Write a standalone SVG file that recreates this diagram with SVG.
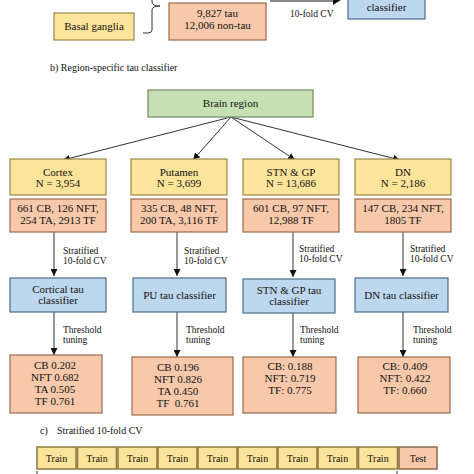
<svg xmlns="http://www.w3.org/2000/svg" width="474" height="474" viewBox="0 0 474 474" font-family="'Liberation Serif', 'Times New Roman', Times, serif">
<defs>
<marker id="ah" viewBox="0 0 10 10" refX="10" refY="5" markerWidth="7" markerHeight="7" orient="auto" markerUnits="userSpaceOnUse">
<path d="M0,0 L10,5 L0,10 z" fill="#111"/>
</marker>
<style>
text{font-family:'Liberation Serif','Times New Roman',Times,serif;fill:#111;}
.t{font-size:11px;text-anchor:middle;}
.s{font-size:9.5px;}
.h{font-size:10px;}
.y{fill:#fde49b;stroke:#9c8848;stroke-width:1.2;}
.o{fill:#f7c9aa;stroke:#9a6a4c;stroke-width:1.2;}
.b{fill:#bdd7ee;stroke:#4a6d8f;stroke-width:1.2;}
.g{fill:#c6e0b4;stroke:#6e8a60;stroke-width:1.2;}
.tr{fill:#fde49b;stroke:#8c7a3c;stroke-width:1.5;}
.te{fill:#f7c9aa;stroke:#8c6a4c;stroke-width:1.5;}
.c{stroke:#333;stroke-width:1;fill:none;}
</style>
</defs>
<rect width="474" height="474" fill="#fff"/>

<!-- section a (partially visible) -->
<g id="basal">
<rect class="y" x="54" y="13" width="80" height="27"/>
<text class="t" x="94" y="30">Basal ganglia</text>
</g>
<g id="brace">
<path class="c" d="M160,6 Q152,6 152,2 L152,-20 M160,6 Q152,6 152,10 L152,30 Q152,33 148,33 L143,33" stroke-width="1.2"/>
</g>
<g id="counts">
<rect class="o" x="169" y="3" width="97" height="37"/>
<text class="t" x="217.5" y="17">9,827 tau</text>
<text class="t" x="217.5" y="29">12,006 non-tau</text>
</g>
<g id="topclassifier">
<rect class="b" x="348" y="-10" width="77" height="29"/>
<text class="t" x="386.5" y="11">classifier</text>
</g>

<g id="connectors">
<line x1="270" y1="-2" x2="334" y2="-2" stroke="#8a8a8a" stroke-width="8"/>
<polygon points="333,-9 344,-2 333,5" fill="#111"/>
<line class="c" x1="231" y1="117" x2="63" y2="160" marker-end="url(#ah)"/>
<line class="c" x1="231" y1="117" x2="193" y2="160" marker-end="url(#ah)"/>
<line class="c" x1="231" y1="117" x2="295" y2="160" marker-end="url(#ah)"/>
<line class="c" x1="231" y1="117" x2="400" y2="160" marker-end="url(#ah)"/>
<line class="c" x1="54" y1="232" x2="54" y2="276" marker-end="url(#ah)"/>
<line class="c" x1="177" y1="232" x2="177" y2="276" marker-end="url(#ah)"/>
<line class="c" x1="293" y1="232" x2="293" y2="277" marker-end="url(#ah)"/>
<line class="c" x1="403" y1="232" x2="403" y2="276" marker-end="url(#ah)"/>
<line class="c" x1="54" y1="312" x2="54" y2="355" marker-end="url(#ah)"/>
<line class="c" x1="177" y1="312" x2="177" y2="357" marker-end="url(#ah)"/>
<line class="c" x1="293" y1="313" x2="293" y2="357" marker-end="url(#ah)"/>
<line class="c" x1="403" y1="312" x2="403" y2="357" marker-end="url(#ah)"/>
<line class="c" x1="37" y1="471" x2="37" y2="474"/>
<line class="c" x1="397" y1="471" x2="397" y2="474"/>
</g>
<text class="s" x="290" y="17">10-fold CV</text>

<text class="h" x="50" y="71">b) Region-specific tau classifier</text>

<g id="brainregion">
<rect class="g" x="148" y="90" width="165" height="27"/>
<text class="t" x="230.5" y="107">Brain region</text>
</g>

<g id="cortex">
<rect class="y" x="10" y="159" width="96" height="36"/>
<text class="t" x="58" y="176">Cortex</text>
<text class="t" x="58" y="187">N = 3,954</text>
<rect class="o" x="10" y="199" width="96" height="33"/>
<text class="t" x="58" y="212">661 CB, 126 NFT,</text>
<text class="t" x="58" y="224">254 TA, 2913 TF</text>
</g>
<g id="putamen">
<rect class="y" x="131" y="159" width="96" height="36"/>
<text class="t" x="179" y="176">Putamen</text>
<text class="t" x="179" y="187">N = 3,699</text>
<rect class="o" x="131" y="199" width="96" height="33"/>
<text class="t" x="179" y="212">335 CB, 48 NFT,</text>
<text class="t" x="179" y="224">200 TA, 3,116 TF</text>
</g>
<g id="stngp">
<rect class="y" x="243" y="159" width="96" height="36"/>
<text class="t" x="291" y="176">STN &amp; GP</text>
<text class="t" x="291" y="187">N = 13,686</text>
<rect class="o" x="243" y="199" width="96" height="33"/>
<text class="t" x="291" y="212">601 CB, 97 NFT,</text>
<text class="t" x="291" y="224">12,988 TF</text>
</g>
<g id="dn">
<rect class="y" x="355" y="159" width="96" height="36"/>
<text class="t" x="403" y="176">DN</text>
<text class="t" x="403" y="187">N = 2,186</text>
<rect class="o" x="355" y="199" width="96" height="33"/>
<text class="t" x="403" y="212">147 CB, 234 NFT,</text>
<text class="t" x="403" y="224">1805 TF</text>
</g>

<g id="labels">
<text class="s" x="63" y="254">Stratified</text>
<text class="s" x="63" y="264">10-fold CV</text>
<text class="s" x="184" y="254">Stratified</text>
<text class="s" x="184" y="264">10-fold CV</text>
<text class="s" x="299" y="252">Stratified</text>
<text class="s" x="299" y="262">10-fold CV</text>
<text class="s" x="410" y="252">Stratified</text>
<text class="s" x="410" y="262">10-fold CV</text>
<text class="s" x="63" y="333">Threshold</text>
<text class="s" x="63" y="343">tuning</text>
<text class="s" x="186" y="333">Threshold</text>
<text class="s" x="186" y="343">tuning</text>
<text class="s" x="300" y="333">Threshold</text>
<text class="s" x="300" y="343">tuning</text>
<text class="s" x="413" y="333">Threshold</text>
<text class="s" x="413" y="343">tuning</text>
</g>

<g id="cortical-classifier">
<rect class="b" x="10" y="278" width="96" height="34"/>
<text class="t" x="58" y="293">Cortical tau</text>
<text class="t" x="58" y="304">classifier</text>
</g>
<g id="pu-classifier">
<rect class="b" x="133" y="278" width="93" height="34"/>
<text class="t" x="179.5" y="299">PU tau classifier</text>
</g>
<g id="stn-classifier">
<rect class="b" x="243" y="279" width="92" height="34"/>
<text class="t" x="289" y="294">STN &amp; GP tau</text>
<text class="t" x="289" y="305">classifier</text>
</g>
<g id="dn-classifier">
<rect class="b" x="355" y="278" width="93" height="34"/>
<text class="t" x="401.5" y="299">DN tau classifier</text>
</g>

<g id="cortex-result">
<rect class="o" x="10" y="355" width="92" height="58"/>
<text class="t" x="55" y="369">CB 0.202</text>
<text class="t" x="55" y="381">NFT 0.682</text>
<text class="t" x="55" y="393">TA 0.505</text>
<text class="t" x="55" y="405">TF 0.761</text>
</g>
<g id="pu-result">
<rect class="o" x="132" y="357" width="101" height="58"/>
<text class="t" x="178" y="371">CB 0.196</text>
<text class="t" x="178" y="383">NFT 0.826</text>
<text class="t" x="178" y="395">TA 0.450</text>
<text class="t" x="178" y="407" xml:space="preserve">TF  0.761</text>
</g>
<g id="stn-result">
<rect class="o" x="243" y="357" width="93" height="56"/>
<text class="t" x="290" y="370">CB: 0.188</text>
<text class="t" x="290" y="382">NFT: 0.719</text>
<text class="t" x="290" y="394">TF: 0.775</text>
</g>
<g id="dn-result">
<rect class="o" x="358" y="357" width="92" height="56"/>
<text class="t" x="405" y="370">CB: 0.409</text>
<text class="t" x="405" y="382">NFT: 0.422</text>
<text class="t" x="405" y="394">TF: 0.660</text>
</g>

<text class="h" x="40" y="434">c)</text>
<text class="h" x="57" y="434">Stratified 10-fold CV</text>

<g id="folds">
<rect class="tr" x="37" y="447" width="39" height="22"/>
<rect class="tr" x="77.5" y="447" width="39" height="22"/>
<rect class="tr" x="118" y="447" width="39" height="22"/>
<rect class="tr" x="158" y="447" width="39" height="22"/>
<rect class="tr" x="198" y="447" width="39" height="22"/>
<rect class="tr" x="238" y="447" width="39" height="22"/>
<rect class="tr" x="278" y="447" width="39" height="22"/>
<rect class="tr" x="318" y="447" width="39" height="22"/>
<rect class="tr" x="358.5" y="447" width="39" height="22"/>
<rect class="te" x="399" y="447" width="38" height="22"/>
<text class="t" x="56.5" y="462" style="font-size:10px">Train</text>
<text class="t" x="97" y="462" style="font-size:10px">Train</text>
<text class="t" x="137.5" y="462" style="font-size:10px">Train</text>
<text class="t" x="177.5" y="462" style="font-size:10px">Train</text>
<text class="t" x="217.5" y="462" style="font-size:10px">Train</text>
<text class="t" x="257.5" y="462" style="font-size:10px">Train</text>
<text class="t" x="297.5" y="462" style="font-size:10px">Train</text>
<text class="t" x="337.5" y="462" style="font-size:10px">Train</text>
<text class="t" x="378" y="462" style="font-size:10px">Train</text>
<text class="t" x="418" y="462" style="font-size:10px">Test</text>
</g>
</svg>
